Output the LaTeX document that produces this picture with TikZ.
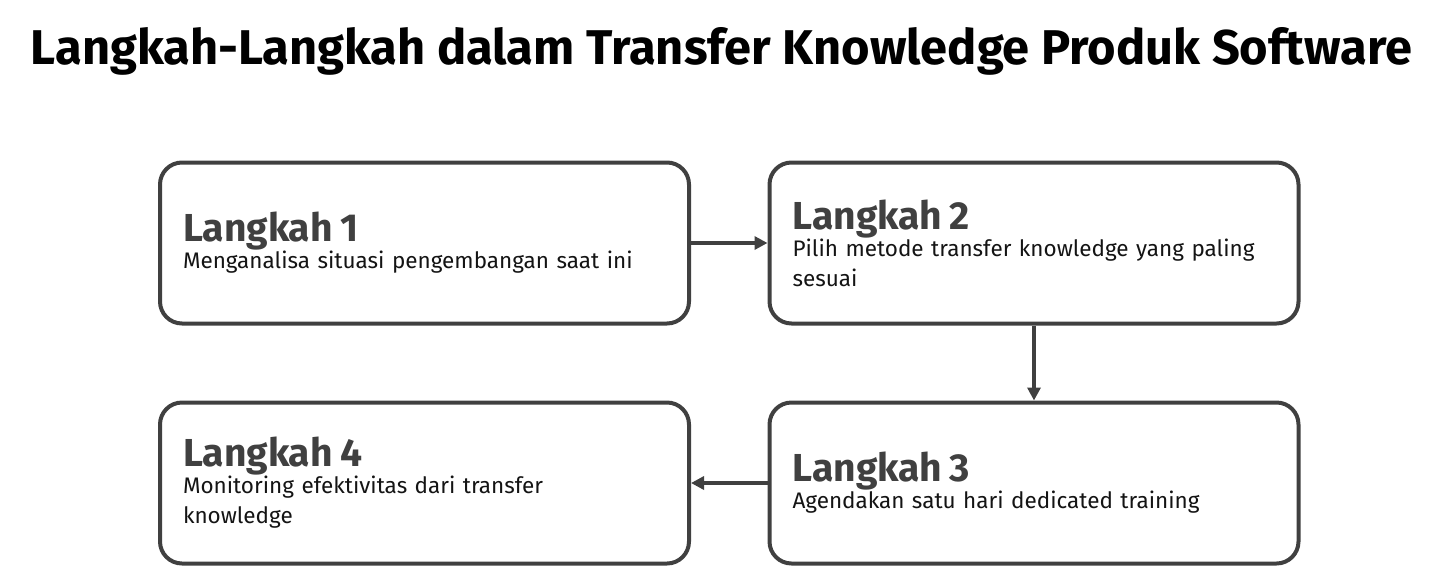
\documentclass[tikz,border=0pt]{standalone}
\usepackage{fontspec}
\setmainfont{Fira Sans}
\usetikzlibrary{arrows.meta,positioning}
\definecolor{ink}{RGB}{64,64,64}
\definecolor{body}{RGB}{20,20,20}
\tikzset{
  every picture/.style={x=1pt, y=-1pt},
  stepbox/.style={draw=ink, line width=4pt, rounded corners=22pt, fill=white,
    minimum width=529pt, minimum height=161pt, text width=483pt, align=left,
    inner sep=0pt, text=body, font=\fontsize{22.5}{30}\selectfont},
  flow/.style={-{Triangle[length=13pt,width=13pt]}, draw=ink, line width=4pt},
  title/.style={font=\fontsize{48.8}{54}\selectfont\bfseries, text=black, inner sep=0pt},
}
\newcommand{\stephead}[1]{{\fontsize{39}{44}\selectfont\bfseries\color{ink}#1}\\[-3pt]}

\begin{document}
\begin{tikzpicture}
  \useasboundingbox (0,0) rectangle (1443,566);
  % title, then the four steps laid out in a loop
  \node[title, anchor=base] (judul) at (721.5,64) {Langkah-Langkah dalam Transfer Knowledge Produk Software};
  \node[stepbox] (langkah1) at (424.5,243) {\stephead{Langkah 1}Menganalisa situasi pengembangan saat ini};
  \node[stepbox] (langkah2) at (1034,243) {\stephead{Langkah 2}Pilih metode transfer knowledge yang paling sesuai};
  \node[stepbox] (langkah3) at (1034,483) {\stephead{Langkah 3}Agendakan satu hari dedicated training};
  \node[stepbox] (langkah4) at (424.5,483) {\stephead{Langkah 4}Monitoring efektivitas dari transfer\\knowledge};
  \draw[flow] (langkah1) -- (langkah2);
  \draw[flow] (langkah2) -- (langkah3);
  \draw[flow] (langkah3) -- (langkah4);
\end{tikzpicture}
\end{document}
